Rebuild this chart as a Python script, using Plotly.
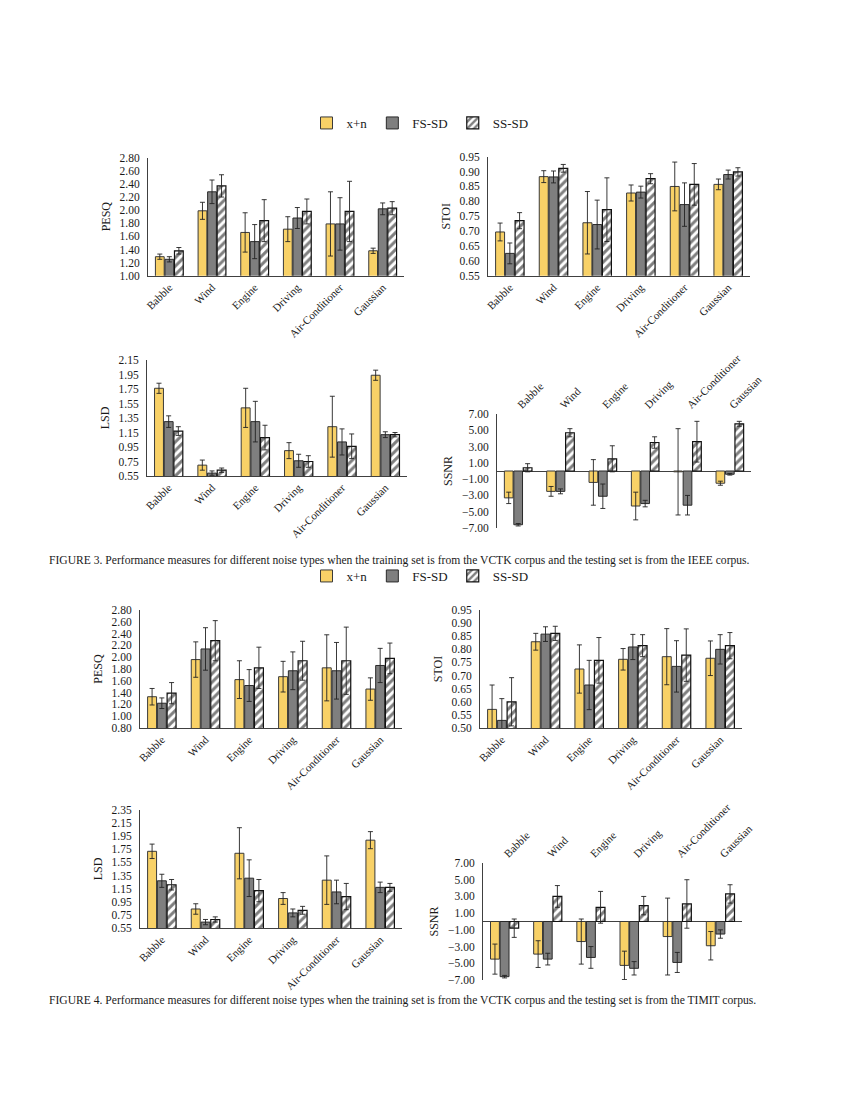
import plotly.graph_objects as go

# ---------------- data ----------------
categories = ["Babble", "Wind", "Engine", "Driving", "Air-Conditioner", "Gaussian"]
series_names = ["x+n", "FS-SD", "SS-SD"]

# FIGURE 3 (VCTK -> IEEE)
f3_pesq_xn = [1.29, 1.99, 1.66, 1.71, 1.79, 1.38]
f3_pesq_fs = [1.25, 2.28, 1.52, 1.88, 1.79, 2.02]
f3_pesq_ss = [1.38, 2.37, 1.84, 1.98, 1.98, 2.03]
f3_pesq_xn_err = [0.04, 0.13, 0.30, 0.19, 0.49, 0.04]
f3_pesq_fs_err = [0.04, 0.18, 0.26, 0.16, 0.40, 0.09]
f3_pesq_ss_err = [0.05, 0.17, 0.32, 0.19, 0.46, 0.10]

f3_stoi_xn = [0.697, 0.883, 0.728, 0.828, 0.850, 0.857]
f3_stoi_fs = [0.625, 0.882, 0.722, 0.831, 0.789, 0.890]
f3_stoi_ss = [0.735, 0.911, 0.772, 0.876, 0.857, 0.899]
f3_stoi_xn_err = [0.030, 0.020, 0.105, 0.027, 0.082, 0.018]
f3_stoi_fs_err = [0.035, 0.020, 0.082, 0.020, 0.073, 0.015]
f3_stoi_ss_err = [0.027, 0.013, 0.107, 0.017, 0.070, 0.014]

f3_lsd_xn = [1.76, 0.70, 1.49, 0.90, 1.23, 1.94]
f3_lsd_fs = [1.30, 0.59, 1.30, 0.76, 1.02, 1.12]
f3_lsd_ss = [1.17, 0.63, 1.08, 0.75, 0.96, 1.12]
f3_lsd_xn_err = [0.07, 0.07, 0.27, 0.11, 0.42, 0.07]
f3_lsd_fs_err = [0.08, 0.03, 0.28, 0.09, 0.18, 0.04]
f3_lsd_ss_err = [0.06, 0.03, 0.17, 0.08, 0.17, 0.03]

f3_ssnr_xn = [-3.3, -2.5, -1.4, -4.3, -0.1, -1.5]
f3_ssnr_fs = [-6.6, -2.5, -3.1, -4.0, -4.2, -0.4]
f3_ssnr_ss = [0.4, 4.7, 1.5, 3.5, 3.6, 5.8]
f3_ssnr_xn_err = [0.7, 0.6, 2.8, 1.7, 5.3, 0.25]
f3_ssnr_fs_err = [0.15, 0.3, 1.5, 0.4, 1.2, 0.1]
f3_ssnr_ss_err = [0.5, 0.5, 1.6, 0.7, 2.5, 0.3]

# FIGURE 4 (VCTK -> TIMIT)
f4_pesq_xn = [1.33, 1.96, 1.62, 1.67, 1.82, 1.46]
f4_pesq_fs = [1.22, 2.14, 1.52, 1.77, 1.77, 1.86]
f4_pesq_ss = [1.39, 2.28, 1.82, 1.94, 1.94, 1.98]
f4_pesq_xn_err = [0.14, 0.30, 0.32, 0.26, 0.56, 0.19]
f4_pesq_fs_err = [0.09, 0.36, 0.27, 0.32, 0.48, 0.29]
f4_pesq_ss_err = [0.18, 0.34, 0.35, 0.33, 0.57, 0.26]

f4_stoi_xn = [0.571, 0.829, 0.725, 0.762, 0.772, 0.766]
f4_stoi_fs = [0.529, 0.858, 0.664, 0.809, 0.735, 0.800]
f4_stoi_ss = [0.600, 0.861, 0.758, 0.814, 0.778, 0.814]
f4_stoi_xn_err = [0.093, 0.032, 0.092, 0.041, 0.107, 0.066]
f4_stoi_fs_err = [0.083, 0.028, 0.094, 0.048, 0.098, 0.056]
f4_stoi_ss_err = [0.092, 0.027, 0.087, 0.042, 0.100, 0.050]

f4_lsd_xn = [1.72, 0.84, 1.69, 1.00, 1.28, 1.89]
f4_lsd_fs = [1.27, 0.64, 1.31, 0.78, 1.10, 1.17]
f4_lsd_ss = [1.21, 0.68, 1.12, 0.82, 1.03, 1.17]
f4_lsd_xn_err = [0.11, 0.08, 0.39, 0.09, 0.37, 0.13]
f4_lsd_fs_err = [0.10, 0.04, 0.28, 0.06, 0.18, 0.08]
f4_lsd_ss_err = [0.08, 0.04, 0.17, 0.06, 0.20, 0.06]

f4_ssnr_xn = [-4.5, -3.9, -2.4, -5.25, -1.8, -2.9]
f4_ssnr_fs = [-6.6, -4.5, -4.3, -5.6, -4.9, -1.5]
f4_ssnr_ss = [-0.8, 3.0, 1.7, 1.9, 2.1, 3.3]
f4_ssnr_xn_err = [1.8, 1.6, 2.7, 1.7, 4.6, 1.7]
f4_ssnr_fs_err = [0.15, 0.7, 1.3, 0.8, 1.2, 0.5]
f4_ssnr_ss_err = [1.1, 1.3, 1.9, 1.1, 2.9, 1.1]

caption3 = ("FIGURE 3. Performance measures for different noise types when the training set "
            "is from the VCTK corpus and the testing set is from the IEEE corpus.")
caption4 = ("FIGURE 4. Performance measures for different noise types when the training set "
            "is from the VCTK corpus and the testing set is from the TIMIT corpus.")

# ---------------- layout helpers ----------------
OFF = 8                      # page body margin offset
W, H = 850 - OFF, 1100 - OFF
FONT = "Liberation Serif"
TXT = "#1a1a1a"
AX = "#404040"


def px(x):
    return (x - OFF) / W


def py(y):
    return 1 - (y - OFF) / H


def xd(a, b):
    return [px(a), px(b)]


def yd(top, bottom):
    return [py(bottom), py(top)]


panels = [
    dict(x=(148, 404), y=(157.7, 275.7), lo=1.00, hi=2.80, dt=0.2, title="PESQ", top=False, leg="legend", first=True,
         data=(f3_pesq_xn, f3_pesq_fs, f3_pesq_ss), err=(f3_pesq_xn_err, f3_pesq_fs_err, f3_pesq_ss_err)),
    dict(x=(488, 750), y=(156.7, 275.7), lo=0.55, hi=0.95, dt=0.05, title="STOI", top=False, leg="legend", first=False,
         data=(f3_stoi_xn, f3_stoi_fs, f3_stoi_ss), err=(f3_stoi_xn_err, f3_stoi_fs_err, f3_stoi_ss_err)),
    dict(x=(147, 407), y=(360, 476), lo=0.55, hi=2.15, dt=0.2, title="LSD", top=False, leg="legend", first=False,
         data=(f3_lsd_xn, f3_lsd_fs, f3_lsd_ss), err=(f3_lsd_xn_err, f3_lsd_fs_err, f3_lsd_ss_err)),
    dict(x=(497, 751), y=(414, 528), lo=-7.0, hi=7.0, dt=2.0, title="SSNR", top=True, leg="legend", first=False,
         data=(f3_ssnr_xn, f3_ssnr_fs, f3_ssnr_ss), err=(f3_ssnr_xn_err, f3_ssnr_fs_err, f3_ssnr_ss_err)),
    dict(x=(140, 402), y=(610, 728), lo=0.80, hi=2.80, dt=0.2, title="PESQ", top=False, leg="legend2", first=True,
         data=(f4_pesq_xn, f4_pesq_fs, f4_pesq_ss), err=(f4_pesq_xn_err, f4_pesq_fs_err, f4_pesq_ss_err)),
    dict(x=(480, 742), y=(610, 728), lo=0.50, hi=0.95, dt=0.05, title="STOI", top=False, leg="legend2", first=False,
         data=(f4_stoi_xn, f4_stoi_fs, f4_stoi_ss), err=(f4_stoi_xn_err, f4_stoi_fs_err, f4_stoi_ss_err)),
    dict(x=(140, 402), y=(810, 928), lo=0.55, hi=2.35, dt=0.2, title="LSD", top=False, leg="legend2", first=False,
         data=(f4_lsd_xn, f4_lsd_fs, f4_lsd_ss), err=(f4_lsd_xn_err, f4_lsd_fs_err, f4_lsd_ss_err)),
    dict(x=(483, 742), y=(863, 980), lo=-7.0, hi=7.0, dt=2.0, title="SSNR", top=True, leg="legend2", first=False,
         data=(f4_ssnr_xn, f4_ssnr_fs, f4_ssnr_ss), err=(f4_ssnr_xn_err, f4_ssnr_fs_err, f4_ssnr_ss_err)),
]

markers = [
    dict(color="#F8D167", line=dict(color="#3a3a3a", width=1)),
    dict(color="#7F7F7F", line=dict(color="#2a2a2a", width=1)),
    dict(color="white", line=dict(color="#111111", width=1.2),
         pattern=dict(shape="/", fgcolor="#000000", bgcolor="white", size=6, solidity=0.5)),
]

fig = go.Figure()
layout_axes = {}
for i, p in enumerate(panels, start=1):
    xa = "x" if i == 1 else f"x{i}"
    ya = "y" if i == 1 else f"y{i}"
    for s in range(3):
        fig.add_trace(go.Bar(
            x=categories, y=p["data"][s], name=series_names[s],
            xaxis=xa, yaxis=ya, legend=p["leg"], showlegend=p["first"],
            marker=markers[s],
            error_y=dict(type="data", array=p["err"][s], visible=True,
                         color="#222222", thickness=0.9, width=2.5),
        ))
    span = p["hi"] - p["lo"]
    xkey = "xaxis" if i == 1 else f"xaxis{i}"
    ykey = "yaxis" if i == 1 else f"yaxis{i}"
    layout_axes[xkey] = dict(
        domain=xd(*p["x"]), anchor=ya, type="category", automargin=False,
        side="top" if p["top"] else "bottom",
        showline=not p["top"], linecolor=AX, linewidth=1,
        ticks="", tickangle=-45, showgrid=False, zeroline=False,
        tickfont=dict(family=FONT, size=11, color=TXT),
    )
    layout_axes[ykey] = dict(
        domain=yd(*p["y"]), anchor=xa, automargin=False,
        range=[p["lo"] - span * 1e-6, p["hi"] + span * 1e-4],
        tick0=p["lo"], dtick=p["dt"], tickformat=".2f",
        showline=True, linecolor=AX, linewidth=1, ticks="",
        ticklabelstandoff=5, showgrid=False,
        zeroline=p["top"], zerolinecolor=AX, zerolinewidth=1,
        tickfont=dict(family=FONT, size=11.5, color=TXT),
        title=dict(text=p["title"], font=dict(family=FONT, size=12, color=TXT), standoff=6),
    )

leg_common = dict(orientation="h", xanchor="center", yanchor="middle",
                  font=dict(family=FONT, size=13, color=TXT), bgcolor="rgba(0,0,0,0)",
                  itemwidth=30, tracegroupgap=0)

fig.update_layout(
    width=W, height=H, margin=dict(l=0, r=0, t=0, b=0, autoexpand=False),
    paper_bgcolor="white", plot_bgcolor="white",
    barmode="group", bargap=0.33, bargroupgap=0.08,
    legend=dict(x=px(420), y=py(123), **leg_common),
    legend2=dict(x=px(420), y=py(576), **leg_common),
    annotations=[
        dict(text=caption3, xref="paper", yref="paper", x=px(47), y=py(560),
             xanchor="left", yanchor="middle", showarrow=False,
             font=dict(family=FONT, size=11.6, color=TXT)),
        dict(text=caption4, xref="paper", yref="paper", x=px(47), y=py(1000),
             xanchor="left", yanchor="middle", showarrow=False,
             font=dict(family=FONT, size=11.6, color=TXT)),
    ],
    **layout_axes,
)

fig.write_html("out.html")
